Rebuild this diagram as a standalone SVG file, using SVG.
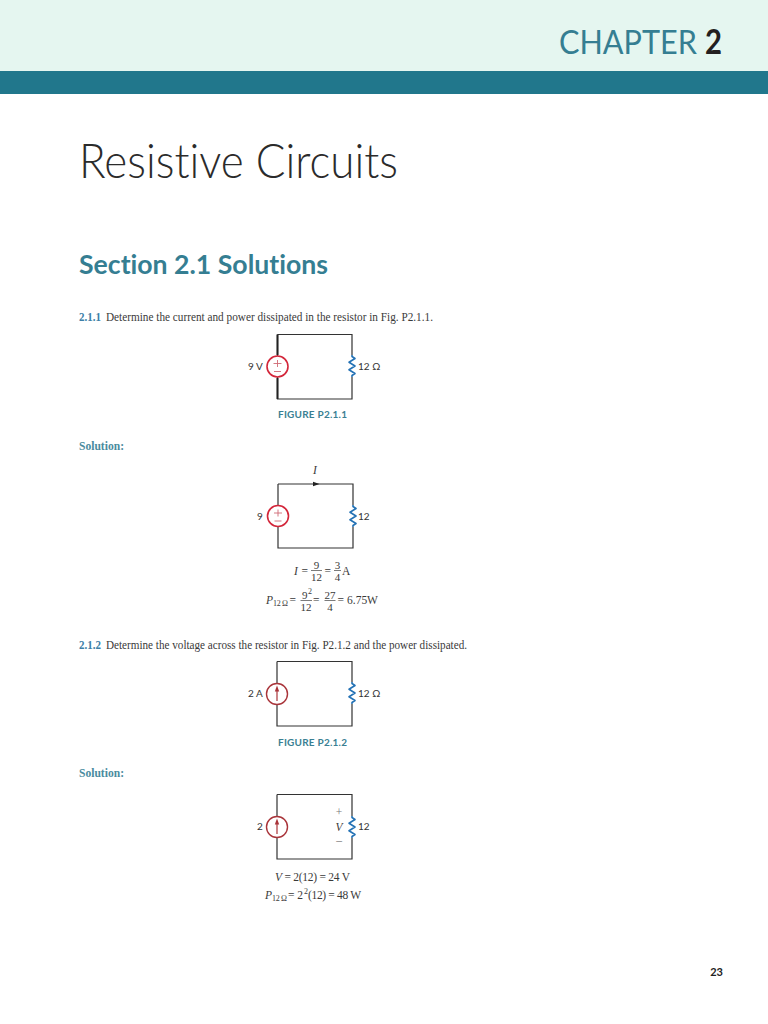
<svg xmlns="http://www.w3.org/2000/svg" width="768" height="1024" viewBox="0 0 768 1024">
<style>
text{font-family:"Liberation Serif",serif;fill:#3a3a3a;font-variant-ligatures:none}
.b{font-size:12px}
.eq{font-size:11.500px}
.f{font-size:11px;text-anchor:middle}
.i{font-style:italic}
.s{font-size:8px}
.l{font-family:Lato,sans-serif;font-size:10px;fill:#333}
.fig{font-family:Lato,sans-serif;font-size:10px;font-weight:700;fill:#3a7f93}
.num{font-weight:700;fill:#3d7fa8;font-size:11.500px}
.sol{font-weight:700;fill:#4a8ba0;font-size:12px}
.w{fill:none;stroke:#333;stroke-width:1.2}
.w2{fill:none;stroke:#222;stroke-width:2}
.rs{fill:none;stroke:#2472b5;stroke-width:1.6;stroke-linejoin:round}
.vs{fill:#fff;stroke:#d3263a;stroke-width:1.6}
.cs{fill:#fff;stroke:#a9343a;stroke-width:1.4}
.ps{fill:none;stroke:#cf6a74;stroke-width:.9}
.frac{stroke:#444;stroke-width:.7}
</style>
<defs>
<path id="res" class="rs" d="M0 -11 L0 -9.500 L3 -7.500 L-3 -3.800 L3 0 L-3 3.800 L3 7.500 L0 9.500 L0 11"/>
</defs>
<g id="header">
<rect x="0" y="0" width="768" height="71" fill="#e5f6f0"/>
<rect x="0" y="71" width="768" height="23" fill="#21778c"/>
<text x="559" y="54" textLength="138" lengthAdjust="spacingAndGlyphs" style="font-family:Lato,sans-serif;font-weight:400;font-size:32px;fill:#357e92">CHAPTER</text>
<text x="705" y="54" textLength="17" lengthAdjust="spacingAndGlyphs" style="font-family:Lato,sans-serif;font-size:34px;font-weight:700;fill:#231f20">2</text>
</g>
<text x="79" y="178" textLength="319" lengthAdjust="spacingAndGlyphs" style="font-family:Lato,sans-serif;font-weight:300;font-size:48px;fill:#2b2b2b">Resistive Circuits</text>
<text x="79" y="274" textLength="249" lengthAdjust="spacingAndGlyphs" style="font-family:Lato,sans-serif;font-weight:700;font-size:27px;fill:#357e92">Section 2.1 Solutions</text>

<text x="79" y="321" class="num" textLength="22" lengthAdjust="spacingAndGlyphs">2.1.1</text>
<text x="106" y="321" class="b" textLength="327" lengthAdjust="spacingAndGlyphs">Determine the current and power dissipated in the resistor in Fig. P2.1.1.</text>

<g id="connectors">
<path class="w" d="M277.500 334.500H352V355M352 377V399H277.500V334.500"/>
<path class="w2" d="M277.500 334.500V355M277.500 378V399"/>
<path class="w" d="M278 484H353V505M353 527V548H278V484"/>
<path d="M313 481.800L319.500 484L313 486.200Z" fill="#222"/>
<path class="w" d="M277 661.500H352V682M352 704V726H277V661.500"/>
<path class="w" d="M277 794.500H352V816M352 838V859H277V794.500"/>
</g>

<g id="fig1-source"><circle class="vs" cx="277.500" cy="366.500" r="10.500"/><path class="ps" d="M273.500 363.500h8M277.500 360v7M274 371.500h7"/></g>
<g id="fig1-res"><use href="#res" x="352" y="366"/></g>
<text x="248" y="370" class="l">9 V</text>
<text x="358" y="370" class="l">12 Ω</text>
<text x="278" y="418" class="fig" textLength="69">FIGURE P2.1.1</text>
<text x="79" y="450" class="sol" textLength="45" lengthAdjust="spacingAndGlyphs">Solution:</text>

<text x="313" y="474" class="eq i">I</text>
<g id="sol1-source"><circle class="vs" cx="278" cy="516" r="10.500"/><path class="ps" d="M274 513h8M278 509.500v7M274.500 521h7"/></g>
<g id="sol1-res"><use href="#res" x="353" y="516"/></g>
<text x="257" y="519.500" class="l">9</text>
<text x="358" y="519.500" class="l">12</text>

<g id="eq1">
<text x="294" y="574.500" class="eq i">I</text><text x="301.500" y="574.500" class="eq">=</text>
<text x="316.500" y="568.500" class="f">9</text><path class="frac" d="M311 570.500h11"/><text x="316.500" y="581" class="f">12</text>
<text x="324.500" y="574.500" class="eq">=</text>
<text x="337.500" y="568.500" class="f">3</text><path class="frac" d="M334 570.500h7"/><text x="337.500" y="581" class="f">4</text>
<text x="342" y="574.500" class="eq">A</text>
</g>
<g id="eq2">
<text x="266" y="604" class="eq i">P</text><text x="273" y="606" class="s" textLength="15">12 Ω</text>
<text x="289.500" y="604" class="eq">=</text>
<text x="302" y="598.500" style="font-size:11px">9</text><text x="308" y="594" class="s">2</text><path class="frac" d="M300.500 600.500h11.500"/><text x="306" y="611" class="f">12</text>
<text x="313" y="604" class="eq">=</text>
<text x="330" y="598.500" class="f">27</text><path class="frac" d="M324.500 600.500h11"/><text x="330" y="611" class="f">4</text>
<text x="337.500" y="604" class="eq">=</text><text x="347" y="604" class="eq">6.75</text><text x="367" y="604" class="eq">W</text>
</g>

<text x="79" y="649" class="num" textLength="22" lengthAdjust="spacingAndGlyphs">2.1.2</text>
<text x="106" y="649" class="b" textLength="361" lengthAdjust="spacingAndGlyphs">Determine the voltage across the resistor in Fig. P2.1.2 and the power dissipated.</text>

<g id="fig2-source"><circle class="cs" cx="277" cy="694" r="10.500"/><path d="M277 701V688" stroke="#a9343a" stroke-width="1.2"/><path d="M274.800 691.500L277 685.500L279.200 691.500Z" fill="#a9343a"/></g>
<g id="fig2-res"><use href="#res" x="352" y="693"/></g>
<text x="248" y="697" class="l">2 A</text>
<text x="358" y="697" class="l">12 Ω</text>
<text x="278" y="746" class="fig" textLength="69">FIGURE P2.1.2</text>
<text x="79" y="777" class="sol" textLength="45" lengthAdjust="spacingAndGlyphs">Solution:</text>

<g id="sol2-source"><circle class="cs" cx="277" cy="827" r="10.500"/><path d="M277 834V821" stroke="#a9343a" stroke-width="1.2"/><path d="M274.800 824.500L277 818.500L279.200 824.500Z" fill="#a9343a"/></g>
<g id="sol2-res"><use href="#res" x="352" y="827"/></g>
<text x="257" y="830" class="l">2</text>
<text x="358" y="830" class="l">12</text>
<text x="339" y="815.500" class="eq" text-anchor="middle" style="fill:#777">+</text>
<text x="339" y="831" class="eq i" text-anchor="middle">V</text>
<text x="339" y="844" class="eq" text-anchor="middle" style="fill:#777">–</text>

<text x="275" y="881" class="eq" textLength="75"><tspan class="i">V</tspan> = 2(12) = 24 V</text>
<g id="eq4">
<text x="265" y="899" class="eq i">P</text><text x="272" y="901" class="s" textLength="15">12 Ω</text>
<text x="288" y="899" class="eq">= 2</text><text x="304" y="894" class="s">2</text><text x="308" y="899" class="eq" textLength="53">(12) = 48 W</text>
</g>
<text x="723" y="976" text-anchor="end" style="font-family:Lato,sans-serif;font-weight:700;font-size:11px;fill:#222">23</text>
</svg>
